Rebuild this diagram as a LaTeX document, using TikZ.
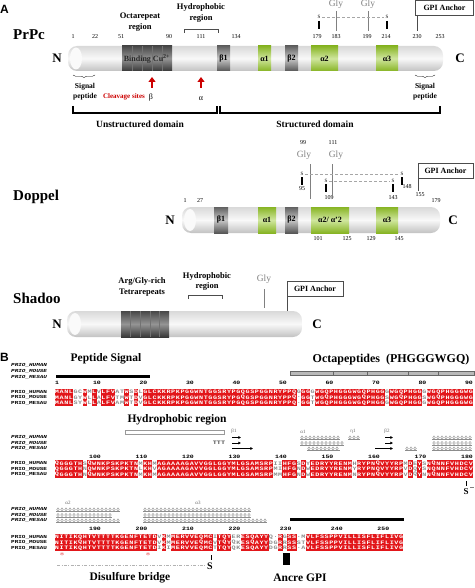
\documentclass[tikz,border=0pt]{standalone}
\usepackage{fontspec}
\setmainfont{Liberation Serif}
\setsansfont{Liberation Sans}
\newfontfamily\seqfont[FakeStretch=1.3]{Liberation Mono}
\usepackage{xstring}
\usetikzlibrary{arrows.meta,decorations.pathreplacing}
\definecolor{esred}{RGB}{226,22,26}
\definecolor{hxgreen}{RGB}{150,200,40}
\definecolor{glygray}{RGB}{128,128,128}

\def\hA{MANLGCWMLVLFVATWSDLGLCKKRPKPGGWNTGGSRYPGQGSPGGNRYPPQGGGGWGQPHGGGWGQPHGGGWGQPHGGGWGQPHGGGWG}
\def\mA{MANLGYWLLALFVTMWTDVGLCKKRPKPGGWNTGGSRYPGQGSPGGNRYPPQ.GGTWGQPHGGGWGQPHGGSWGQPHGGSWGQPHGGGWG}
\def\sA{MANLSYWLLALFVAMWTDVGLCKKRPKPGGWNTGGSRYPGQGSPGGNRYPPQ.GGTWGQPHGGGWGQPHGGGWGQPHGGGWGQPHGGGWG}
\def\hB{QGGGTHSQWNKPSKPKTNMKHMAGAAAAGAVVGGLGGYMLGSAMSRPIIHFGSDYEDRYYRENMHRYPNQVYYRPMDEYSNQNNFVHDCV}
\def\mB{QGGGTHNQWNKPSKPKTNLKHVAGAAAAGAVVGGLGGYMLGSAMSRPMIHFGNDWEDRYYRENMYRYPNQVYYRPVDQYSNQNNFVHDCV}
\def\sB{QGGGTHNQWNKPSKPKTNMKHMAGAAAAGAVVGGLGGYMLGSAMSRPMMHFGNDWEDRYYRENMNRYPNQVYYRPVDQYNNQNNFVHDCV}
\def\hC{NITIKQHTVTTTTKGENFTETDVKMMERVVEQMCITQYERESQAYYQ.RGSS.MVLFSSPPVILLISFLIFLIVG}
\def\mC{NITIKQHTVTTTTKGENFTETDVKMMERVVEQMCVTQYQKESQAYYDGRRSSSTVLFSSPPVILLISFLIFLIVG}
\def\sC{NITIKQHTVTTTTKGENFTETDIKIMERVVEQMCTTQYQKESQAYYDGRRSS.AVLFSSPPVILLISFLIFLIVG}

\newcommand\alnblock[5]{%
  \StrLen{#3}[\ncol]%
  \foreach \i in {1,...,\ncol}{%
    \StrChar{#3}{\i}[\ca]\StrChar{#4}{\i}[\cb]\StrChar{#5}{\i}[\cc]%
    \pgfmathsetmacro\cx{57+(\i-1)*4.65}%
    \def\rescol{black!45}%
    \ifx\ca\cb\ifx\cb\cc
      \fill[esred] (\cx-2.37,#2-3.3) rectangle (\cx+2.37,#2+14.3);
      \def\rescol{white}%
    \fi\fi
    \node[res,text=\rescol] (#1h\i) at (\cx,#2) {\ca};
    \node[res,text=\rescol] (#1m\i) at (\cx,#2+5.5) {\cb};
    \node[res,text=\rescol] (#1s\i) at (\cx,#2+11) {\cc};
  }%
  \node[seqname] (#1nh) at (11,#2) {PRIO\_HUMAN};
  \node[seqname] (#1nm) at (11,#2+5.5) {PRIO\_MOUSE};
  \node[seqname] (#1ns) at (11,#2+11) {PRIO\_MESAU};
}
\newcommand\helixrow[3]{%
  \pgfmathtruncatemacro\nh{(#2-#1)/4-1}%
  \foreach \k in {0,...,\nh} \draw[black!55,line width=0.3pt] ({#1+2+4*\k},#3) ellipse (1.3 and 1.6);
  \draw[black!45,line width=0.3pt] (#1,#3+2.1) -- (#2,#3+2.1);
}

\begin{document}
\begin{tikzpicture}[x=1pt,y=-1pt,
  tube/.style={rounded corners=9pt,top color=gray!30,bottom color=gray!48,middle color=gray!5},
  octseg/.style={top color=black!72,bottom color=black!78,middle color=black!42},
  betaseg/.style={top color=black!62,bottom color=black!66,middle color=black!22},
  helixseg/.style={top color=hxgreen!90!black,bottom color=hxgreen!90!black,middle color=hxgreen!45},
  segtxt/.style={font=\bfseries\fontsize{8}{9}\selectfont,inner sep=0pt},
  title/.style={font=\bfseries\fontsize{15}{17}\selectfont,anchor=west,inner sep=0pt},
  term/.style={font=\bfseries\fontsize{13}{15}\selectfont,inner sep=0pt},
  num/.style={font=\fontsize{6}{7}\selectfont,inner sep=0pt},
  note/.style={font=\bfseries\fontsize{8.5}{10.5}\selectfont,align=center,inner sep=0pt},
  small/.style={font=\bfseries\fontsize{7.5}{10}\selectfont,align=center,inner sep=0pt},
  big/.style={font=\bfseries\fontsize{11.5}{13}\selectfont,inner sep=0pt},
  dom/.style={font=\bfseries\fontsize{9.5}{11}\selectfont,inner sep=0pt},
  gly/.style={font=\fontsize{9.5}{10}\selectfont,text=glygray,inner sep=0pt},
  glyline/.style={glygray,line width=1pt},
  stxt/.style={font=\fontsize{5}{5}\selectfont,inner sep=0pt},
  ssbond/.style={line width=2pt},
  bridge/.style={gray!70,line width=0.5pt,dash pattern=on 3pt off 2pt},
  gpi/.style={draw=gray!60!black,font=\bfseries\fontsize{8}{9}\selectfont,inner sep=0pt,minimum height=15pt},
  panel/.style={font=\sffamily\bfseries\fontsize{12}{13}\selectfont,inner sep=0pt},
  res/.style={font=\seqfont\bfseries\fontsize{5.2}{5.2}\selectfont,inner sep=0pt},
  seqname/.style={font=\seqfont\bfseries\fontsize{4.6}{5}\selectfont,inner sep=0pt,anchor=west},
  ssname/.style={seqname,font=\seqfont\bfseries\itshape\fontsize{4.6}{5}\selectfont},
  alnnum/.style={font=\seqfont\bfseries\fontsize{5}{5}\selectfont,inner sep=0pt,anchor=east},
  sslbl/.style={font=\fontsize{5}{5}\selectfont,text=black!60,inner sep=0pt},
  strand/.style={-{Latex[length=2.6pt,width=3.2pt]},line width=1pt},
  ]
\useasboundingbox (0,0) rectangle (474,588);

\node[panel] (pA) at (4.5,9) {A};
\node[title] (prpc) at (13,35) {PrPc};
\shade[tube] (68,46) rectangle (443,71);
\fill[gray!4] (76,58.5) ellipse (6 and 11);
\shade[octseg] (122,46) rectangle (172,71);
\foreach \x in {132,142,152,162} \draw[black!55,thin] (\x,46) -- (\x,71);
\node[segtxt,text=black!85] (cu) at (147,58.5) {Binding Cu\textsuperscript{2+}};
\shade[betaseg] (217,46) rectangle (230,71);
\node[segtxt] (pb1) at (223.5,58.5) {β1};
\shade[helixseg] (258,46) rectangle (271,71);
\node[segtxt] (pa1) at (264.5,58.5) {α1};
\shade[betaseg] (285,46) rectangle (298,71);
\node[segtxt] (pb2) at (291.5,58.5) {β2};
\shade[helixseg] (311,46) rectangle (338,71);
\node[segtxt] (pa2) at (324.5,58.5) {α2};
\shade[helixseg] (376,46) rectangle (398,71);
\node[segtxt] (pa3) at (387,58.5) {α3};
\node[term] (pN) at (57,58.5) {N};
\node[term] (pC) at (460,58.5) {C};
\foreach \x/\t in {73/1,95/22,121/51,169/90,201/111,236/134,317/179,336/183,367/199,386/214,417/230,440/253}
  \node[num] (pn\t) at (\x,37) {\t};
\node[note] (octa) at (140,22) {Octarepeat\\region};
\node[note] (phyd) at (201,13) {Hydrophobic\\region};
\draw[black!70,line width=0.8pt] (184,33) -- (184,29.5) -- (218,29.5) -- (218,33);
\node[gly] (pg1) at (336,4) {Gly};
\node[gly] (pg2) at (368,4) {Gly};
\draw[glyline] (336,11) -- (336,31);
\draw[glyline] (368,11) -- (368,31);
\node[stxt] (ps1) at (319,17) {S};
\node[stxt] (ps2) at (387,17) {S};
\draw[ssbond] (319,21) -- (319,29);
\draw[ssbond] (387,21) -- (387,29);
\draw[bridge] (322,17.5) -- (384,17.5);
\node[gpi,minimum width=58pt] (pgpi) at (444.5,7.5) {GPI Anchor};
\draw[gray!60!black,line width=0.7pt] (417,15) -- (417,31);
\draw[decorate,decoration={brace,amplitude=2.5pt}] (95,75) -- (73,75);
\node[small] (psig1) at (85,91.5) {Signal\\peptide};
\draw[decorate,decoration={brace,amplitude=2.5pt}] (435,75) -- (415,75);
\node[small] (psig2) at (425,91.5) {Signal\\peptide};
\draw[red!80!black,line width=1.8pt,-{Triangle[width=7pt,length=5pt]}] (152,88) -- (152,77);
\draw[red!80!black,line width=1.8pt,-{Triangle[width=7pt,length=5pt]}] (201,88) -- (201,77);
\node[font=\bfseries\fontsize{7}{8}\selectfont,text=red!80!black,inner sep=0pt] (cleave) at (124,97) {Cleavage sites};
\node[font=\fontsize{8}{9}\selectfont,inner sep=0pt] (cb) at (151,97.5) {β};
\node[font=\fontsize{8}{9}\selectfont,inner sep=0pt] (ca) at (201,99) {α};
\draw[line width=1.2pt] (73,106) -- (73,113) -- (217,113) -- (217,106);
\draw[line width=1.2pt] (220,106) -- (220,113) -- (440,113) -- (440,106);
\node[dom] (unstr) at (140,124) {Unstructured domain};
\node[dom] (str) at (315,124) {Structured domain};

\node[title] (dpl) at (13,197) {Doppel};
\shade[tube] (182,207) rectangle (440,233);
\fill[gray!4] (190,220) ellipse (6 and 11);
\shade[betaseg] (214,207) rectangle (228,233);
\node[segtxt] (db1) at (221,220) {β1};
\shade[helixseg] (258,207) rectangle (276,233);
\node[segtxt] (da1) at (267,220) {α1};
\shade[betaseg] (285,207) rectangle (298,233);
\node[segtxt] (db2) at (291.5,220) {β2};
\shade[helixseg] (311,207) rectangle (349,233);
\node[segtxt] (da2) at (330,220) {α2/ α'2};
\shade[helixseg] (376,207) rectangle (398,233);
\node[segtxt] (da3) at (387,220) {α3};
\node[term] (dN) at (170,220) {N};
\node[term] (dC) at (453,220) {C};
\foreach \x/\y/\t in {185/201/1,200/201/27,318/239/101,347/239/125,371/239/129,399/239/145,303/143/99,333/143/111,302/189/95,329/198/109,393/198/143,407/187/148,420/195/155,436/201/179}
  \node[num] (dn\t) at (\x,\y) {\t};
\node[gly] (dg1) at (304,155) {Gly};
\node[gly] (dg2) at (336,155) {Gly};
\draw[glyline] (310,164) -- (310,199);
\draw[glyline] (332,164) -- (332,199);
\foreach \x/\y in {302/174,326/181,393/181,402/174} {
  \node[stxt] (ds\x) at (\x,\y) {S};
  \draw[ssbond] (\x,\y+3) -- (\x,\y+11);
}
\draw[bridge] (305,174) -- (399,174);
\draw[bridge] (329,181) -- (390,181);
\node[gpi,minimum width=55pt] (dgpi) at (445.5,170.5) {GPI Anchor};
\draw[gray!60!black,line width=0.7pt] (418,178) -- (418,191);

\node[title] (shd) at (13,298) {Shadoo};
\shade[tube] (67,311) rectangle (302,337);
\fill[gray!4] (75,324) ellipse (6 and 11);
\shade[octseg] (121,311) rectangle (169,337);
\foreach \x in {130.6,140.2,149.8,159.4} \draw[black!55,thin] (\x,311) -- (\x,337);
\node[term] (sN) at (57,324) {N};
\node[term] (sC) at (317,324) {C};
\node[note] (tetra) at (142,287) {Arg/Gly-rich\\Tetrarepeats};
\node[note] (shyd) at (207,281.5) {Hydrophobic\\region};
\draw[black!70,line width=0.8pt] (188,299) -- (188,295.5) -- (222,295.5) -- (222,299);
\node[gly] (sg) at (264,279) {Gly};
\draw[glyline] (264,289) -- (264,308);
\node[gpi,minimum width=56pt] (sgpi) at (315,289) {GPI Anchor};
\draw[gray!60!black,line width=0.7pt] (287,297) -- (287,311);

\node[panel] (pB) at (4.5,357) {B};
\node[big] (psig) at (106,359) {Peptide Signal};
\node[big,font=\bfseries\fontsize{12}{13}\selectfont] (octp) at (391,360) {Octapeptides~~(PHGGGWGQ)};
\draw[line width=3pt] (56,376.5) -- (150,376.5);
\fill[gray!55,draw=black!60,line width=0.4pt] (290,371) rectangle (474,375.5);
\foreach \x in {333,367,408,438} \draw[black!60,line width=0.4pt] (\x,371) -- (\x,375.5);
\foreach \y/\t in {365/HUMAN,371/MOUSE,377/MESAU} \node[ssname] (ssA\t) at (11,\y) {PRIO\_\t};
\foreach \j/\t in {1/1,10/10,20/20,30/30,40/40,50/50,60/60,70/70,80/80,90/90}
  \node[alnnum] (nA\t) at ({57+(\j-1)*4.65+2.2},383) {\t};
\alnblock{A}{392}{\hA}{\mA}{\sA}

\node[big] (bhyd) at (177,420) {Hydrophobic region};
\draw[black!40,line width=0.5pt] (125,430) rectangle (224,434);
\foreach \y/\t in {437.5/HUMAN,443/MOUSE,448.5/MESAU} \node[ssname] (ssB\t) at (11,\y) {PRIO\_\t};
\foreach \x/\t in {234/β1,303/α1,353/η1,387/β2} \node[sslbl] (lb\x) at (\x,431.5) {\t};
\draw[strand] (232,437.5) -- (241,437.5);
\draw[strand] (232,443) -- (241,443);
\draw[strand] (232,448.5) -- (253,448.5);
\draw[strand] (385,437.5) -- (393,437.5);
\draw[strand] (385,443) -- (393,443);
\draw[strand] (375,448.5) -- (393,448.5);
\node[res,text=black!70] (tttB) at (219,443) {TTT};
\helixrow{300}{340}{437.5}
\helixrow{348}{360}{437.5}
\helixrow{300}{344}{443}
\helixrow{307}{340}{448.5}
\helixrow{405}{417}{448.5}
\foreach \y in {437.5,443,448.5} {\helixrow{432}{472}{\y}}
\foreach \j/\t in {10/100,20/110,30/120,40/130,50/140,60/150,70/160,80/170,90/180}
  \node[alnnum] (nB\t) at ({57+(\j-1)*4.65+2.2},457) {\t};
\alnblock{B}{463.5}{\hB}{\mB}{\sB}
\draw[line width=1pt] (466,481) -- (466,486);
\node[font=\bfseries\fontsize{9}{10}\selectfont,inner sep=0pt] (sB) at (466,492) {S};
\draw[black!50,line width=0.5pt] (470,487) -- (474,487);

\foreach \y/\t in {509.5/HUMAN,515/MOUSE,520.5/MESAU} \node[ssname] (ssC\t) at (11,\y) {PRIO\_\t};
\node[sslbl] (la2) at (68,503) {α2};
\node[sslbl] (la3) at (198,503) {α3};
\helixrow{56}{120}{509.5}
\helixrow{56}{112}{515}
\helixrow{56}{120}{520.5}
\helixrow{143}{251}{509.5}
\helixrow{143}{251}{515}
\helixrow{143}{267}{520.5}
\draw[line width=3pt] (290,519) -- (404,519);
\foreach \j/\t in {10/190,20/200,30/210,40/220,51/230,62/240,72/250}
  \node[alnnum] (nC\t) at ({57+(\j-1)*4.65+2.2},529) {\t};
\alnblock{C}{537}{\hC}{\mC}{\sC}
\node[text=esred!70,font=\fontsize{9}{9}\selectfont,inner sep=0pt] (ast1) at (62,556) {*};
\node[text=esred!70,font=\fontsize{9}{9}\selectfont,inner sep=0pt] (ast2) at (148,556) {*};
\draw[gray!60,line width=0.5pt,dash pattern=on 3pt off 1.5pt on 0.8pt off 1.5pt] (57,565) -- (206,565);
\draw[line width=1pt] (211,555) -- (211,560);
\node[font=\bfseries\fontsize{10}{11}\selectfont,inner sep=0pt] (sC) at (210,566) {S};
\node[big] (disul) at (130,578) {Disulfure bridge};
\fill (283,553) rectangle (290,565);
\node[big] (ancre) at (300,578) {Ancre GPI};
\end{tikzpicture}
\end{document}
